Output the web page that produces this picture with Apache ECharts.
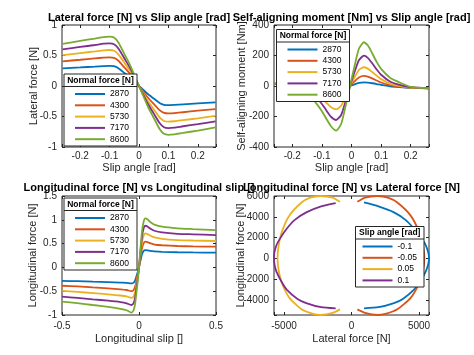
<!DOCTYPE html>
<html><head><meta charset="utf-8">
<script src="https://cdn.jsdelivr.net/npm/echarts@6/dist/echarts.min.js"></script>
<style>html,body{margin:0;padding:0;background:#fff}#c{width:474px;height:355px}</style>
</head><body><div id="c"></div>
<script>
// ---------- data ----------
const loads = ['2870', '4300', '5730', '7170', '8600'];
const slipAngles = ['-0.1', '-0.05', '0.05', '0.1'];

// Lateral force vs slip angle
const alphaLat = [-0.26,-0.2,-0.15,-0.12,-0.1,-0.085,-0.07,-0.05,-0.03,-0.015,0,0.015,0.03,0.05,0.07,0.085,0.1,0.12,0.15,0.2,0.26];
const fy2870 = [0.29,0.305,0.318,0.327,0.33,0.324,0.29,0.215,0.139,0.069,0,-0.066,-0.132,-0.205,-0.277,-0.308,-0.315,-0.31,-0.30,-0.285,-0.27];
const fy4300 = [0.405,0.43,0.452,0.465,0.47,0.461,0.414,0.306,0.197,0.099,0,-0.095,-0.189,-0.293,-0.396,-0.441,-0.45,-0.445,-0.43,-0.405,-0.38];
const fy5730 = [0.505,0.54,0.567,0.584,0.59,0.578,0.519,0.384,0.248,0.124,0,-0.123,-0.246,-0.38,-0.515,-0.573,-0.585,-0.578,-0.56,-0.53,-0.49];
const fy7170 = [0.60,0.64,0.672,0.693,0.70,0.686,0.616,0.455,0.294,0.147,0,-0.145,-0.29,-0.449,-0.607,-0.676,-0.69,-0.683,-0.66,-0.625,-0.58];
const fy8600 = [0.69,0.74,0.778,0.802,0.81,0.794,0.713,0.527,0.34,0.17,0,-0.168,-0.336,-0.52,-0.704,-0.784,-0.80,-0.792,-0.77,-0.73,-0.68];

// Self-aligning moment vs slip angle
const alphaMz = [-0.26,-0.2,-0.16,-0.13,-0.1,-0.085,-0.07,-0.052,-0.035,-0.02,-0.005,0.01,0.025,0.042,0.055,0.07,0.085,0.1,0.13,0.16,0.2,0.26];
const mz2870 = [15,11,5,-3,-17,-25,-31,-35,-30,-16,0,11,20,24,22,18,13,7,-2,-7,-12,-15];
const mz4300 = [15,9,-2,-18,-47,-65,-80,-90,-77,-41,0,30,56,66,61,50,36,23,6,-4,-11,-15];
const mz5730 = [15,6,-10,-34,-82,-110,-137,-153,-130,-69,0,55,105,123,114,92,68,45,16,1,-10,-15];
const mz7170 = [15,3,-20,-52,-118,-160,-200,-223,-190,-100,0,90,169,199,185,149,109,74,30,9,-8,-15];
const mz8600 = [15,0,-35,-88,-165,-215,-262,-293,-249,-132,0,129,244,287,267,215,158,112,54,25,-6,-15];

// Longitudinal force vs longitudinal slip
const kappa = [-0.5,-0.4,-0.3,-0.2,-0.12,-0.08,-0.05,-0.035,-0.025,-0.015,-0.007,0,0.01,0.02,0.03,0.04,0.055,0.075,0.1,0.15,0.25,0.35,0.5];
const fx2870 = [-0.285,-0.29,-0.30,-0.31,-0.32,-0.325,-0.335,-0.32,-0.27,-0.17,-0.085,0,0.15,0.28,0.345,0.365,0.36,0.345,0.335,0.325,0.318,0.314,0.31];
const fx4300 = [-0.385,-0.40,-0.42,-0.44,-0.46,-0.475,-0.50,-0.475,-0.40,-0.25,-0.125,0,0.22,0.41,0.505,0.54,0.53,0.505,0.48,0.465,0.45,0.44,0.435];
const fx5730 = [-0.495,-0.515,-0.54,-0.565,-0.59,-0.61,-0.64,-0.61,-0.51,-0.32,-0.16,0,0.29,0.54,0.67,0.715,0.70,0.665,0.63,0.60,0.575,0.565,0.555];
const fx7170 = [-0.615,-0.64,-0.67,-0.70,-0.73,-0.755,-0.79,-0.75,-0.63,-0.40,-0.2,0,0.35,0.66,0.82,0.875,0.86,0.81,0.77,0.735,0.705,0.695,0.68];
const fx8600 = [-0.72,-0.75,-0.79,-0.83,-0.87,-0.90,-0.95,-0.90,-0.76,-0.48,-0.24,0,0.41,0.77,0.96,1.03,1.01,0.95,0.90,0.855,0.82,0.805,0.785];

// Longitudinal force vs lateral force (combined slip), per slip angle
const latM010 = [926,2000,3148,4000,4630,5200,5494,5700,5740,5680,5494,5100,4630,3800,3148,2000,926];
const lonM010 = [5375,5000,4425,3700,2849,1900,1263,500,0,-600,-1270,-2200,-3010,-3900,-4300,-4700,-4815];
const latM005 = [432,1000,1914,2700,3395,4383,5000,5300,5400,5300,5000,4383,3395,2500,1914,1000,432];
const lonM005 = [5440,5850,6000,5850,5375,4112,2570,1200,0,-1100,-2400,-3800,-4900,-5350,-5450,-5250,-4910];
const latP005 = [-850,-1400,-2280,-3050,-3700,-4600,-5150,-5400,-5480,-5400,-5150,-4600,-3700,-2850,-2280,-1400,-850];
const lonP005 = [5440,5850,6000,5850,5375,4112,2570,1200,0,-1100,-2400,-3800,-4900,-5350,-5450,-5250,-4910];
const latP010 = [-1170,-2250,-3350,-4200,-4800,-5300,-5560,-5720,-5740,-5700,-5560,-5200,-4800,-4000,-3350,-2250,-1170];
const lonP010 = [5318,5000,4425,3700,2849,1900,1263,500,0,-600,-1270,-2200,-3010,-3900,-4300,-4700,-4815];

// ---------- chart ----------
const colors = ['#0072BD', '#D95319', '#EDB120', '#7E2F8E', '#77AC30'];
const FONT = '"Liberation Sans", Arial, Helvetica, sans-serif';
const INK = '#262626';
const zip = (xs, ys) => xs.map((x, i) => [x, ys[i]]);

const grids = [
  { left: 62, top: 25, width: 154, height: 122 },
  { left: 274, top: 25, width: 155, height: 122 },
  { left: 62, top: 196, width: 154, height: 119 },
  { left: 274, top: 196, width: 155, height: 119 }
].map(g => Object.assign({ show: true, borderColor: INK, borderWidth: 1, backgroundColor: 'transparent' }, g));

function fmt(step) {
  return v => {
    const k = v / step;
    if (Math.abs(k - Math.round(k)) > 1e-6) return '';
    return String(+v.toFixed(6));
  };
}
const tick = { show: true, inside: true, length: 3, lineStyle: { color: INK } };
const noLine = { show: false, onZero: false };
const xAxes = [], yAxes = [];
function axes(gi, xr, yr, xname, yname, xGap, yGap, xMargin) {
  xAxes.push({ type: 'value', gridIndex: gi, position: 'bottom', min: xr[0], max: xr[1], minInterval: xr[2], maxInterval: xr[2],
    name: xname, nameLocation: 'middle', nameGap: xGap, nameMoveOverlap: false,
    nameTextStyle: { fontSize: 11, color: INK, fontFamily: FONT },
    axisLine: noLine, splitLine: { show: false }, axisTick: tick,
    axisLabel: { fontSize: 10, color: INK, fontFamily: FONT, margin: xMargin, formatter: fmt(xr[2]) } });
  xAxes.push({ type: 'value', gridIndex: gi, position: 'top', min: xr[0], max: xr[1], minInterval: xr[2], maxInterval: xr[2],
    axisLine: noLine, splitLine: { show: false }, axisLabel: { show: false }, axisTick: tick });
  yAxes.push({ type: 'value', gridIndex: gi, position: 'left', min: yr[0], max: yr[1], minInterval: yr[2], maxInterval: yr[2],
    name: yname, nameLocation: 'middle', nameGap: yGap, nameRotate: 90, nameMoveOverlap: false,
    nameTextStyle: { fontSize: 11, color: INK, fontFamily: FONT },
    axisLine: noLine, splitLine: { show: false }, axisTick: tick,
    axisLabel: { fontSize: 10, color: INK, fontFamily: FONT, margin: 5, formatter: fmt(yr[2]) } });
  yAxes.push({ type: 'value', gridIndex: gi, position: 'right', min: yr[0], max: yr[1], minInterval: yr[2], maxInterval: yr[2],
    axisLine: noLine, splitLine: { show: false }, axisLabel: { show: false }, axisTick: tick });
}
axes(0, [-0.2618, 0.2618, 0.1], [-1, 1, 0.5], 'Slip angle [rad]', 'Lateral force [N]', 15, 23, 4);
axes(1, [-0.2618, 0.2618, 0.1], [-400, 400, 200], 'Slip angle [rad]', 'Self-aligning moment [Nm]', 15, 26.5, 4);
axes(2, [-0.5, 0.5, 0.5], [-1, 1.5, 0.5], 'Longitudinal slip []', 'Longitudinal force [N]', 18, 23.5, 6);
axes(3, [-5740, 5740, 5000], [-5450, 6000, 2000], 'Lateral force [N]', 'Longitudinal force [N]', 18, 27.5, 6);

const series = [];
function addLine(gi, name, color, data) {
  series.push({ type: 'line', name, xAxisIndex: gi * 2, yAxisIndex: gi * 2, data, symbol: 'none', showSymbol: false,
    smooth: 0.2, clip: true, z: 2, color, itemStyle: { color }, lineStyle: { width: 1.8, color } });
}
const latSets = [fy2870, fy4300, fy5730, fy7170, fy8600];
const mzSets = [mz2870, mz4300, mz5730, mz7170, mz8600];
const fxSets = [fx2870, fx4300, fx5730, fx7170, fx8600];
loads.forEach((n, i) => addLine(0, n, colors[i], zip(alphaLat, latSets[i])));
loads.forEach((n, i) => addLine(1, n, colors[i], zip(alphaMz, mzSets[i])));
loads.forEach((n, i) => addLine(2, n, colors[i], zip(kappa, fxSets[i])));
const ellLat = [latM010, latM005, latP005, latP010];
const ellLon = [lonM010, lonM005, lonP005, lonP010];
slipAngles.forEach((n, i) => addLine(3, n, colors[i], zip(ellLat[i], ellLon[i])));

// legends (boxes drawn with graphic, entries by legend component)
const legendBoxes = [
  { L: 64, T: 74, W: 73, H: 72, title: 'Normal force [N]', data: loads, padL: 10 },
  { L: 276.5, T: 29.5, W: 73, H: 72, title: 'Normal force [N]', data: loads, padL: 10 },
  { L: 64, T: 198, W: 73, H: 72, title: 'Normal force [N]', data: loads, padL: 10 },
  { L: 355.5, T: 226.5, W: 68.5, H: 60.5, title: 'Slip angle [rad]', data: slipAngles, padL: 6 }
];
const legends = legendBoxes.map(b => ({
  data: b.data, orient: 'vertical', left: b.L + b.padL, top: b.T + 15, padding: 0,
  itemWidth: 30, itemHeight: 2, itemGap: 1.3, z: 8, selectedMode: false,
  itemStyle: { opacity: 0 },
  textStyle: { fontSize: 8.5, color: '#000', fontFamily: FONT, lineHeight: 10, height: 10 }
}));
const graphics = [];
legendBoxes.forEach(b => {
  graphics.push({ type: 'rect', z: 6, shape: { x: b.L, y: b.T, width: b.W, height: b.H },
    style: { fill: '#fff', stroke: INK, lineWidth: 1 } });
  graphics.push({ type: 'line', z: 7, shape: { x1: b.L, y1: b.T + 12.5, x2: b.L + b.W, y2: b.T + 12.5 },
    style: { stroke: INK, lineWidth: 1 } });
  graphics.push({ type: 'text', z: 9, x: b.L + b.W / 2, y: b.T + 6.5,
    style: { text: b.title, fontSize: 8.5, fontWeight: 'bold', fontFamily: FONT, fill: '#000',
      align: 'center', verticalAlign: 'middle', textAlign: 'center', textVerticalAlign: 'middle' } });
});
// subplot titles
const titles = [
  ['Lateral force [N] vs Slip angle [rad]', 139, 17.5],
  ['Self-aligning moment [Nm] vs Slip angle [rad]', 351.5, 17.5],
  ['Longitudinal force [N] vs Longitudinal slip []', 139, 187.5],
  ['Longitudinal force [N] vs Lateral force [N]', 351.5, 187.5]
];
titles.forEach(t => graphics.push({ type: 'text', z: 20, x: t[1], y: t[2],
  style: { text: t[0], fontSize: 11, fontWeight: 'bold', fontFamily: FONT, fill: '#000',
    align: 'center', verticalAlign: 'middle', textAlign: 'center', textVerticalAlign: 'middle' } }));

const chart = echarts.init(document.getElementById('c'), null, { renderer: 'canvas', width: 474, height: 355 });
chart.setOption({
  backgroundColor: '#fff',
  animation: false,
  textStyle: { fontFamily: FONT },
  grid: grids, xAxis: xAxes, yAxis: yAxes, series, legend: legends, graphic: graphics
});
</script></body></html>
